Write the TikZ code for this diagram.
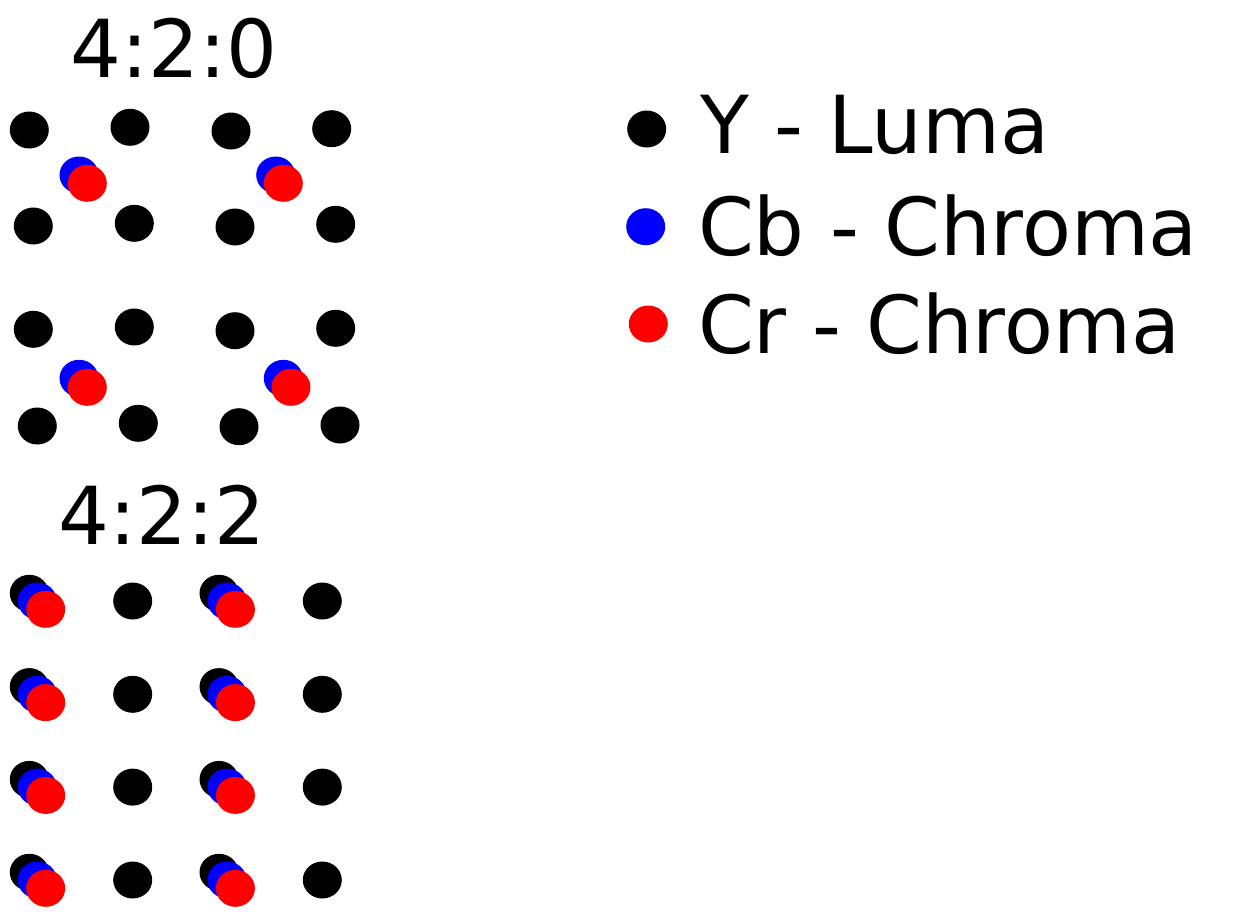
\documentclass[tikz,border=0pt]{standalone}
\usepackage{fontspec}
\setmainfont{DejaVu Sans}
\usetikzlibrary{shapes.geometric}
\begin{document}
\begin{tikzpicture}[x=1bp,y=-1bp,
  dot/.style={ellipse,inner sep=0pt,outer sep=0pt,minimum width=39bp,minimum height=37bp,draw=none},
  ydot/.style={dot,fill=black},
  cbdot/.style={dot,fill=blue},
  crdot/.style={dot,fill=red},
  lbl/.style={inner sep=0pt,outer sep=0pt,text=black,font=\fontsize{80bp}{96bp}\selectfont}]
\useasboundingbox[fill=white] (0,0) rectangle (1240,916);

% ---------- 4:2:0 ----------
\node[lbl,anchor=base] (t420) at (174,77) {4:2:0};
% luma rows
\foreach \x/\y [count=\i] in {29.3/130,130/127.3,231/131,331.7/128.7,
                              33.3/226,134.3/223.3,235/227,335.7/224.3,
                              33.3/329.3,134.3/327,235/330.7,335.7/328.3,
                              37.3/426,138.3/423.3,239/426.7,340/425}
  \node[ydot] (a-y\i) at (\x,\y) {};
% chroma
\foreach \bx/\by/\rx/\ry [count=\i] in {79/175/87.3/183.3,275.7/175/283.3/183.3,
                                        79/378.3/87.3/387.3,283.3/378.3/291/387.3}
{
  \node[cbdot] (a-cb\i) at (\bx,\by) {};
  \node[crdot] (a-cr\i) at (\rx,\ry) {};
}

% ---------- 4:2:2 ----------
\node[lbl,anchor=base] (t422) at (161.7,544) {4:2:2};
\foreach \yy [count=\r] in {593.3,686.6,779.4,872.3}
{
  \foreach \xx [count=\c] in {29.3,219}
  {
    \node[ydot] (b-y\r-\c) at (\xx,\yy) {};
    \node[cbdot] (b-cb\r-\c) at (\xx+8,\yy+7.7) {};
    \node[crdot] (b-cr\r-\c) at (\xx+16.4,\yy+16) {};
  }
  \foreach \xx [count=\c] in {132.7,322.3}
    \node[ydot] (b-z\r-\c) at (\xx,\yy+7.7) {};
}

% ---------- legend ----------
\node[ydot] (ly) at (646.7,129) {};
\node[cbdot] (lcb) at (645.7,226.7) {};
\node[crdot] (lcr) at (648.3,324) {};
\node[lbl,anchor=base west] (tly) at (700,153) {Y - Luma};
\node[lbl,anchor=base west] (tlcb) at (698,255.5) {Cb - Chroma};
\node[lbl,anchor=base west] (tlcr) at (698,353) {Cr - Chroma};
\end{tikzpicture}
\end{document}
